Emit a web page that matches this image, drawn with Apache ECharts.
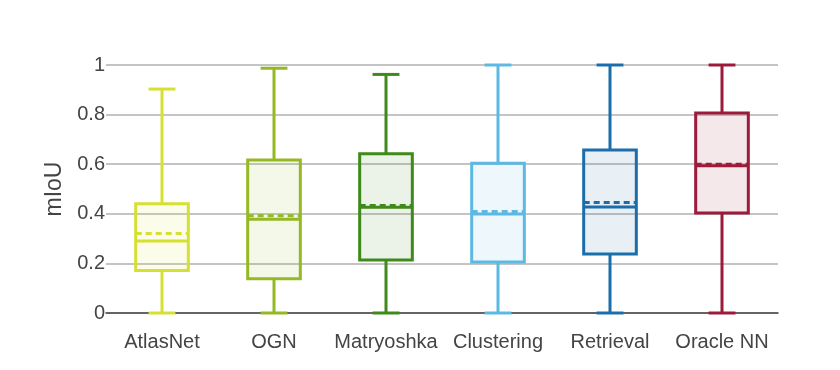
<!DOCTYPE html>
<html><head><meta charset="utf-8">
<script src="https://cdn.jsdelivr.net/npm/echarts@6/dist/echarts.min.js"></script>
<style>html,body{margin:0;padding:0;background:#fff}#c{width:840px;height:370px}</style>
</head><body><div id="c"></div>
<script>
const categories = ['AtlasNet', 'OGN', 'Matryoshka', 'Clustering', 'Retrieval', 'Oracle NN'];
const mins    = [0, 0, 0, 0, 0, 0];
const q1s     = [0.171, 0.138, 0.214, 0.206, 0.238, 0.403];
const medians = [0.290, 0.378, 0.426, 0.399, 0.427, 0.594];
const q3s     = [0.441, 0.617, 0.642, 0.604, 0.657, 0.806];
const maxs    = [0.903, 0.987, 0.962, 1.0, 1.0, 1.0];
const means   = [0.321, 0.392, 0.433, 0.409, 0.446, 0.600];
const yTicks  = [0, 0.2, 0.4, 0.6, 0.8, 1];
const colors  = ['#d6e033', '#94b925', '#3e8a1a', '#5cb9e4', '#1b6eab', '#9c1b3b'];

function rgba(hex, a) {
  const n = parseInt(hex.slice(1), 16);
  return 'rgba(' + ((n >> 16) & 255) + ',' + ((n >> 8) & 255) + ',' + (n & 255) + ',' + a + ')';
}

const data = categories.map((c, i) => [i, mins[i], q1s[i], medians[i], q3s[i], maxs[i], means[i]]);
const FONT = '"Liberation Sans", Arial, sans-serif';

const chart = echarts.init(document.getElementById('c'), null, {renderer: 'canvas'});
chart.setOption({
  backgroundColor: '#fff',
  animation: false,
  grid: {left: 106, right: 62, top: 65, bottom: 57},
  xAxis: {
    type: 'category',
    data: categories,
    axisLine: {show: true, lineStyle: {color: '#444', width: 1.5}},
    axisTick: {show: false},
    axisLabel: {color: '#444', fontSize: 20, fontFamily: FONT, margin: 19, interval: 0},
    splitLine: {show: false}
  },
  yAxis: {
    type: 'value',
    min: yTicks[0], max: yTicks[yTicks.length - 1], interval: 0.2,
    name: 'mIoU',
    nameLocation: 'middle',
    nameGap: 37,
    nameTextStyle: {color: '#444', fontSize: 23, fontFamily: FONT},
    axisLine: {show: false},
    axisTick: {show: false},
    axisLabel: {color: '#444', fontSize: 20, fontFamily: FONT, margin: 1},
    splitLine: {show: true, lineStyle: {color: '#b0b0b0', width: 1.5}}
  },
  series: [{
    type: 'custom',
    data: data,
    encode: {x: 0, y: [1, 2, 3, 4, 5, 6]},
    z: 5,
    renderItem: function (params, api) {
      const i = api.value(0);
      const band = api.size([1, 0])[0];
      const cx = api.coord([i, 0])[0];
      const y = v => api.coord([i, v])[1];
      const hw = band * 0.235, cw = band * 0.12;
      const col = colors[i];
      const yMin = y(api.value(1)), yQ1 = y(api.value(2)), yMed = y(api.value(3)),
            yQ3 = y(api.value(4)), yMax = y(api.value(5)), yMean = y(api.value(6));
      const ls = {stroke: col, lineWidth: 3, fill: null};
      return {
        type: 'group',
        children: [
          {type: 'rect', shape: {x: cx - hw, y: yQ3, width: 2 * hw, height: yQ1 - yQ3},
           style: {fill: rgba(col, 0.1), stroke: col, lineWidth: 3}},
          {type: 'line', shape: {x1: cx, y1: yQ3, x2: cx, y2: yMax}, style: ls},
          {type: 'line', shape: {x1: cx, y1: yQ1, x2: cx, y2: yMin}, style: ls},
          {type: 'line', shape: {x1: cx - cw, y1: yMax, x2: cx + cw, y2: yMax}, style: ls},
          {type: 'line', shape: {x1: cx - cw, y1: yMin, x2: cx + cw, y2: yMin}, style: ls},
          {type: 'line', shape: {x1: cx - hw, y1: yMed, x2: cx + hw, y2: yMed}, style: ls},
          {type: 'line', shape: {x1: cx - hw, y1: yMean, x2: cx + hw, y2: yMean},
           style: {stroke: col, lineWidth: 3, lineDash: [6, 4], fill: null}}
        ]
      };
    }
  }]
});
</script>
</body></html>
